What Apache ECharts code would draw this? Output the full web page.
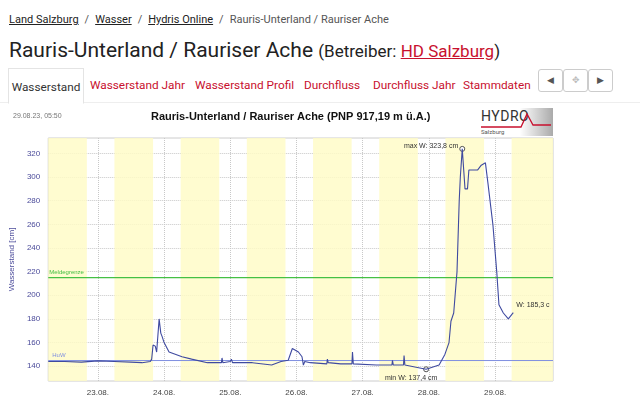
<!DOCTYPE html>
<html><head><meta charset="utf-8">
<script src="https://cdn.jsdelivr.net/npm/echarts@6/dist/echarts.min.js"></script>
<style>
body{margin:0;width:640px;height:402px;overflow:hidden;font-family:Roboto,"Liberation Sans",Arial,sans-serif;background:#fff;position:relative;color:#222}
.bc{position:absolute;left:9px;top:13px;font-size:11px;color:#555}
.bc a{color:#222;text-decoration:underline}
.bc span{margin:0 6px}
h1{position:absolute;left:9px;top:38px;margin:0;font-size:21px;font-weight:400;white-space:nowrap}
h1 small{font-size:17px}
h1 a{color:#c8102e;text-decoration:underline}
.tabs{position:absolute;left:0;top:68px;width:640px;height:34px;border-bottom:1px solid #eee;font-size:11.8px;white-space:nowrap}
.tab{position:absolute;top:10px;color:#c8102e}
.act{position:absolute;left:8px;top:0;height:34px;width:74px;border:1px solid #e4e4e4;border-bottom:1px solid #fff;background:#fff;color:#333;line-height:36px;text-align:center}
.btn{position:absolute;top:1px;width:23px;height:21px;border:1px solid #ccc;border-radius:3px;font-size:9px;color:#555;text-align:center;line-height:21px}
#c{position:absolute;left:0;top:100px;width:640px;height:302px}
.logo{position:absolute;left:479px;top:108px;width:74px;height:28px;background:linear-gradient(90deg,#fff 55%,#aaa 100%)}
</style></head><body>
<div class="bc"><a>Land Salzburg</a><span>/</span><a>Wasser</a><span>/</span><a>Hydris Online</a><span>/</span>Rauris-Unterland / Rauriser Ache</div>
<h1>Rauris-Unterland / Rauriser Ache <small>(Betreiber: <a>HD Salzburg</a>)</small></h1>
<div class="tabs">
<div class="act">Wasserstand</div>
<span class="tab" style="left:90px">Wasserstand Jahr</span>
<span class="tab" style="left:195px">Wasserstand Profil</span>
<span class="tab" style="left:304px">Durchfluss</span>
<span class="tab" style="left:373px">Durchfluss Jahr</span>
<span class="tab" style="left:463px">Stammdaten</span>
<span class="btn" style="left:538px">&#9664;</span>
<span class="btn" style="left:563px;color:#bbb">&#10021;</span>
<span class="btn" style="left:588px">&#9654;</span>
</div>
<div id="c"></div>
<div class="logo"><div style="position:absolute;left:2px;top:0;font-size:14px;color:#333;letter-spacing:0.5px">HYDRO</div>
<svg style="position:absolute;left:0;top:0" width="74" height="28"><path d="M2 19 H42 L48 6 L54 17 H72" stroke="#c8102e" fill="none" stroke-width="1.3"/></svg>
<div style="position:absolute;left:2px;top:20px;font-size:6px;color:#555">Salzburg</div></div>
<script>
// hours since 22.08. 00:00
const hours = [6,12,18,24,30,36,40,43,43.5,44,44.8,45.3,46.2,46.8,47.3,48,49.8,54.5,58,63.7,68.8,69,69.3,72,72.4,72.8,80,87,90.4,93,94.5,96.7,98,98.5,99,101,107,107.2,107.5,112,116.1,116.3,116.6,125,130.6,130.8,131.1,134.8,135,135.3,143,147.7,149.8,151.3,152,153,154.2,155,155.4,156.1,157.1,158,158.5,161.7,163,164.5,165.4,167.2,168.6,169.4,171,172.8,174.6];
const level = [144,144,143.5,144.5,144,143.5,143,144,146,158,157,152,180,168,165,160,152,148,146,143,143,147,143,144,146,143,143,141,144,145,155,152,148,141,144,143,142,146,143,142,142,152,142,141,141,145,141,141,149,141,137.4,141,150,160,178,185,220,280,300,323.8,290,290,306,306,310,312,295,260,220,192,185,180,185.3];
const dayTicks = [24,48,72,96,120,144,168];
const dayLabels = ['23.08.','24.08.','25.08.','26.08.','27.08.','28.08.','29.08.'];
const yTicks = [140,160,180,200,220,240,260,280,300,320];
const bands = [[6,20],[30,44],[54,68],[78,92],[102,116],[126,140],[150,164],[174,189]];
const limits = {meldegrenze:215, huw:144.8};
const cur = {max:[156.1,323.8], min:[143,137.4], last:[174.6,185.3]};

const ch = echarts.init(document.getElementById('c'));
ch.setOption({
  animation:false,
  title:[{text:'Rauris-Unterland / Rauriser Ache (PNP 917,19 m ü.A.)',left:146,top:6,textStyle:{fontSize:11,fontWeight:'bold',color:'#111',fontFamily:'Arial'}},
         {text:'29.08.23, 05:50',left:8,top:8,textStyle:{fontSize:7,fontWeight:'normal',color:'#777'}}],
  grid:{left:48,right:87,top:38,bottom:21,show:true,borderColor:'#ccc',borderWidth:1},
  xAxis:{type:'value',min:6,max:189,
    axisLine:{show:false},axisTick:{show:false,customValues:dayTicks},
    axisLabel:{customValues:dayTicks,formatter:v=>dayLabels[dayTicks.indexOf(v)],fontSize:8,color:'#444'},
    splitLine:{show:true,lineStyle:{color:'#c8c8c8',type:'dotted'}}},
  yAxis:{type:'value',min:127.5,max:333,name:'Wasserstand [cm]',nameLocation:'middle',nameGap:24,
    nameTextStyle:{fontSize:8,color:'#4b4b9a'},
    axisLine:{show:false},axisTick:{show:false,customValues:yTicks},
    axisLabel:{customValues:yTicks,fontSize:8,color:'#4b4b9a'},
    splitLine:{show:true,lineStyle:{color:'#c8c8c8',type:'dotted'}}},
  series:[
   {type:'line',data:[],z:1,
    markArea:{silent:true,itemStyle:{color:'rgba(255,252,200,0.85)'},data:bands.map(b=>[{xAxis:b[0]},{xAxis:b[1]}])}},
   {type:'line',z:3,data:[[6,limits.meldegrenze],[189,limits.meldegrenze]],symbol:'none',
    lineStyle:{color:'#44c044',width:1.2},
    markPoint:{symbol:'rect',symbolSize:0,data:[{coord:[6,limits.meldegrenze],label:{show:true,position:'right',formatter:'Meldegrenze',fontSize:6,color:'#44c044',distance:1,offset:[0,-5]}}]}},
   {type:'line',z:3,data:[[6,limits.huw],[189,limits.huw]],symbol:'none',
    lineStyle:{color:'#7f8fe0',width:1},
    markPoint:{symbol:'rect',symbolSize:0,data:[{coord:[6,limits.huw],label:{show:true,position:'right',formatter:'HuW',fontSize:6,color:'#7f8fe0',distance:4,offset:[0,-5]}}]}},
   {type:'line',z:5,data:hours.map((h,i)=>[h,level[i]]),symbol:'none',
    lineStyle:{color:'#3f4aa0',width:1.1},
    markPoint:{symbol:'circle',symbolSize:5,itemStyle:{color:'#fff',borderColor:'#555',borderWidth:1},data:[
      {coord:cur.max,label:{show:true,position:'left',formatter:'max W: 323,8 cm',fontSize:7,color:'#333',distance:1,offset:[0,-3]}},
      {coord:cur.min,label:{show:true,position:'bottom',formatter:'min W: 137,4 cm',fontSize:7,color:'#333',distance:2,offset:[-15,0]}},
      {coord:cur.last,symbolSize:0,label:{show:true,position:'right',formatter:'W: 185,3 c',fontSize:7,color:'#333',distance:3,offset:[0,-8]}}]}
  }]
});
</script></body></html>
